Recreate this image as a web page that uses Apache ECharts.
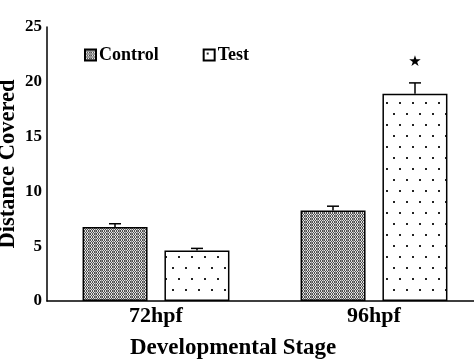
<!DOCTYPE html>
<html><head><meta charset="utf-8">
<script src="https://cdn.jsdelivr.net/npm/echarts@6/dist/echarts.min.js"></script>
<style>html,body{margin:0;padding:0;background:#fff}#c{width:474px;height:361px}</style>
</head><body><div id="c"></div>
<script>
const categories = ['72hpf', '96hpf'];
const controlValues = [6.75, 8.25];
const testValues = [4.6, 18.9];
const controlErr = [0.3, 0.4];
const testErr = [0.2, 1.0];
const yTicks = [0, 5, 10, 15, 20, 25];
const starMarks = [[1, 21.8]];

function makeControlPattern() {
  const c = document.createElement('canvas');
  c.width = 6; c.height = 3;
  const g = c.getContext('2d');
  g.fillStyle = '#e2e2e2'; g.fillRect(0, 0, 6, 3);
  g.fillStyle = '#505050';
  for (let x = 0; x < 6; x += 2) { g.fillRect(x, 0, 1, 1); g.fillRect(x + 1, 1, 1, 1); g.fillRect(x, 2, 1, 1); }
  g.fillStyle = '#8a8a8a'; g.fillRect(5, 0, 1, 3);
  return c;
}
function makeTestPattern() {
  const c = document.createElement('canvas');
  c.width = 26; c.height = 22;
  const g = c.getContext('2d');
  g.fillStyle = '#fff'; g.fillRect(0, 0, 26, 22);
  g.fillStyle = '#222';
  g.fillRect(3, 3, 2, 2); g.fillRect(16, 3, 2, 2);
  g.fillRect(9, 14, 2, 2); g.fillRect(22, 14, 2, 2);
  return c;
}

const chart = echarts.init(document.getElementById('c'));
const serif = '"Liberation Serif", "Times New Roman", serif';
const BAND = 218, OFF = 41;

function errSeries(vals, errs, sign, name) {
  return {
    type: 'custom', name: name, silent: true, z: 5,
    data: vals.map((v, i) => [i, v, v + errs[i]]),
    renderItem: function (params, api) {
      const base = api.coord([api.value(0), api.value(1)]);
      const top = api.coord([api.value(0), api.value(2)]);
      const band = api.size([1, 0])[0];
      const x = base[0] + sign * band * OFF / BAND;
      return { type: 'group', children: [
        { type: 'line', shape: { x1: x, y1: base[1], x2: x, y2: top[1] }, style: { stroke: '#000', lineWidth: 1.5 } },
        { type: 'line', shape: { x1: x - 6, y1: top[1], x2: x + 6, y2: top[1] }, style: { stroke: '#000', lineWidth: 1.5 } }
      ]};
    }
  };
}

chart.setOption({
  animation: false,
  grid: { left: 47, top: 27, width: 436, height: 274, containLabel: false, outerBoundsMode: 'none' },
  legend: {
    left: 79, top: 41, itemWidth: 11, itemHeight: 11, itemGap: 44, icon: 'rect',
    data: ['Control', 'Test'],
    textStyle: { fontFamily: serif, fontWeight: 'bold', fontSize: 18, color: '#000', padding: [0, 0, 0, -2] }
  },
  xAxis: {
    type: 'category', data: categories,
    axisLine: { lineStyle: { color: '#000', width: 1.5 } },
    axisTick: { show: false },
    axisLabel: { fontFamily: serif, fontWeight: 'bold', fontSize: 22, color: '#000', margin: 4 }
  },
  yAxis: {
    type: 'value', min: 0, max: 25, interval: 5,
    name: 'Distance Covered', nameLocation: 'middle', nameGap: 27, nameMoveOverlap: false,
    nameTextStyle: { fontFamily: serif, fontWeight: 'bold', fontSize: 22.5, color: '#000' },
    axisLine: { show: true, lineStyle: { color: '#000', width: 1.5 } },
    axisTick: { show: false },
    splitLine: { show: false },
    axisLabel: { fontFamily: serif, fontWeight: 'bold', fontSize: 17, color: '#000', margin: 5,
      formatter: v => yTicks.includes(v) ? String(v) : '' }
  },
  graphic: [{
    type: 'text', left: 130, top: 337,
    style: { text: 'Developmental Stage', fontFamily: serif, fontWeight: 'bold', fontSize: 23, fill: '#000' }
  }],
  series: [
    { name: 'Control', type: 'bar', data: controlValues, barWidth: 65, barGap: '26%',
      itemStyle: { color: { image: makeControlPattern(), repeat: 'repeat' }, borderColor: '#000', borderWidth: 1.5 } },
    { name: 'Test', type: 'bar', data: testValues, barWidth: 65, barGap: '26%',
      itemStyle: { color: { image: makeTestPattern(), repeat: 'repeat' }, borderColor: '#000', borderWidth: 1.5 } },
    errSeries(controlValues, controlErr, -1, 'errC'),
    errSeries(testValues, testErr, 1, 'errT'),
    { type: 'custom', name: 'star', silent: true, data: starMarks,
      renderItem: function (params, api) {
        const p = api.coord([api.value(0), api.value(1)]);
        const band = api.size([1, 0])[0];
        return { type: 'text', x: p[0] + band * OFF / BAND, y: p[1],
          style: { text: '★', fontSize: 15, fill: '#000', align: 'center', verticalAlign: 'middle', fontFamily: 'DejaVu Sans' } };
      }
    }
  ]
});
</script></body></html>
